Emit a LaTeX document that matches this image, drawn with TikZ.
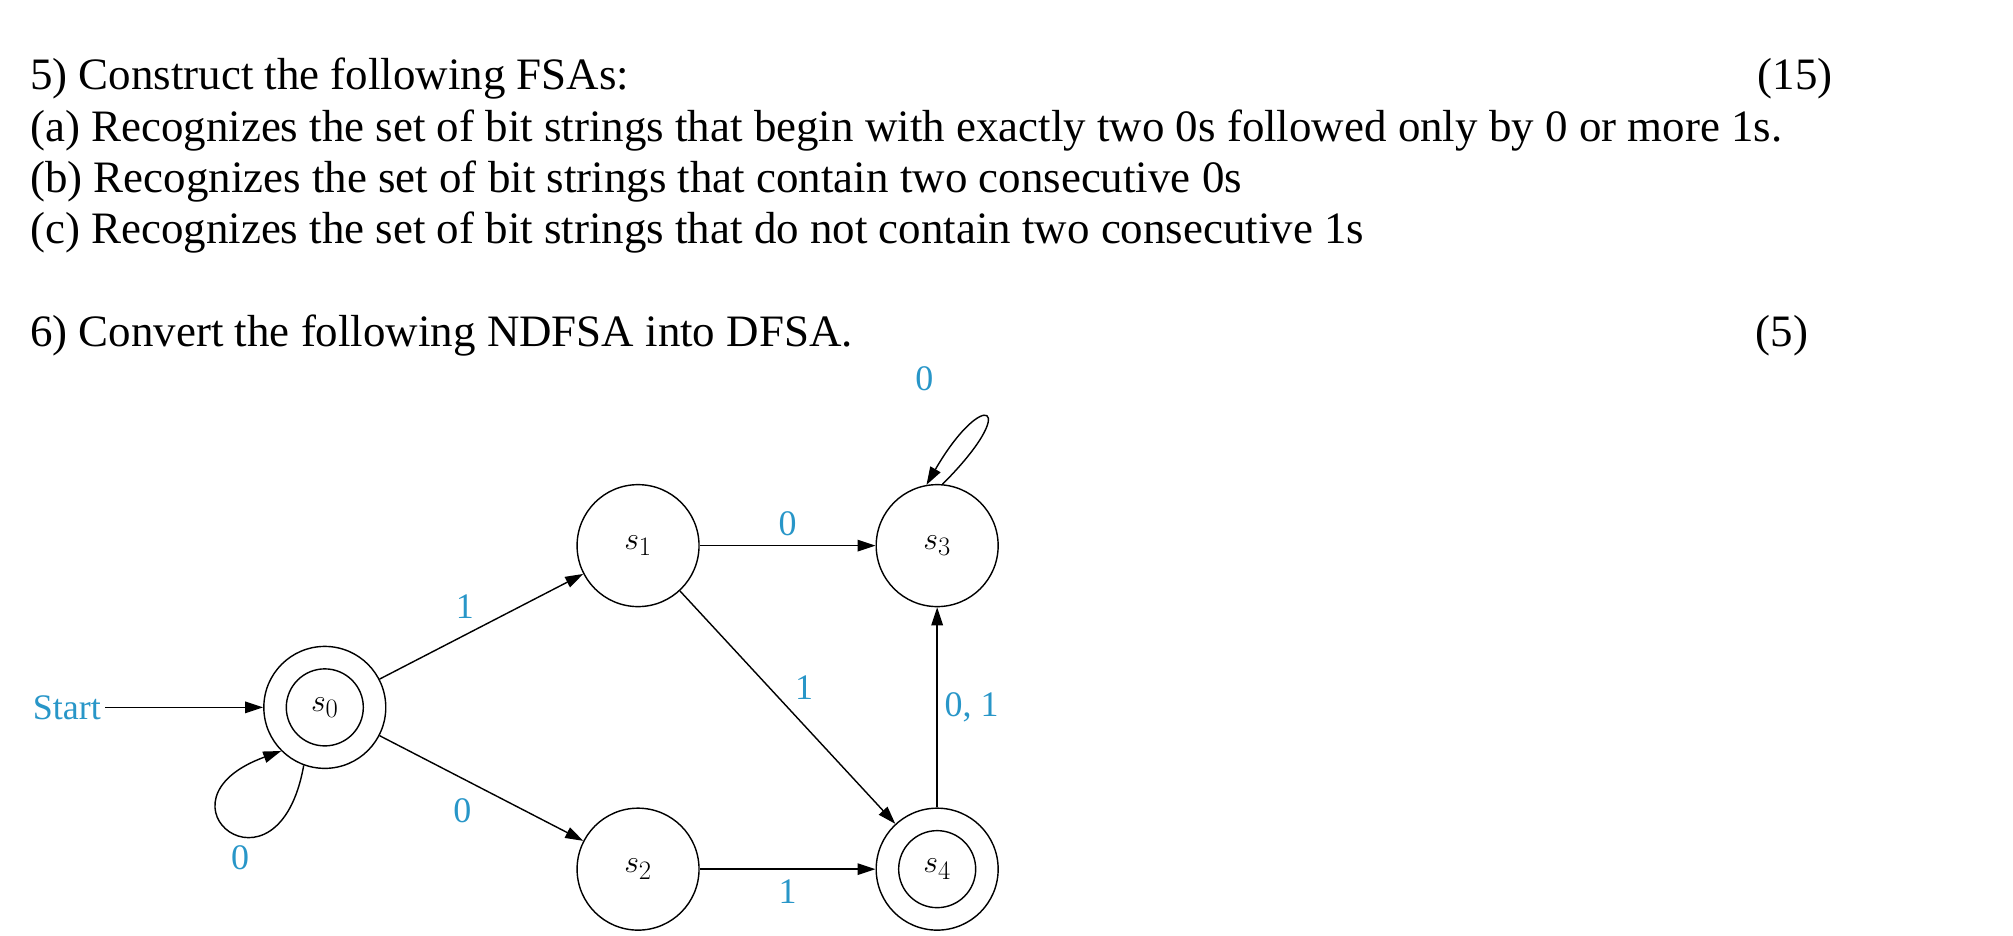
\documentclass[tikz,border=0pt]{standalone}
\usepackage{fontspec}
\setmainfont{Liberation Serif}
\usetikzlibrary{arrows.meta}
\definecolor{lab}{RGB}{40,150,200}
\begin{document}
\begin{tikzpicture}[x=1pt,y=-1pt,
  st/.style={draw,circle,line width=1.1pt,minimum size=95pt,inner sep=0pt,font=\fontsize{28}{28}\selectfont\itshape},
  inner/.style={draw,circle,line width=1.1pt,minimum size=60pt},
  q/.style={anchor=base west,font=\fontsize{35}{35}\selectfont},
  lb/.style={text=lab,font=\fontsize{28}{28}\selectfont},
  ar/.style={line width=1.1pt,-{Triangle[length=14pt,width=9pt]}}]
\useasboundingbox (0,0) rectangle (1568,729);
\node[q] (t5) at (20,70) {5) Construct the following FSAs:};
\node[q,anchor=base east] (t15) at (1431,70) {(15)};
\node[q] (ta) at (20,110) {(a) Recognizes the set of bit strings that begin with exactly two 0s followed only by 0 or more 1s.};
\node[q] (tb) at (20,150) {(b) Recognizes the set of bit strings that contain two consecutive 0s};
\node[q] (tc) at (20,190) {(c) Recognizes the set of bit strings that do not contain two consecutive 1s};
\node[q] (t6) at (20,270) {6) Convert the following NDFSA into DFSA.};
\node[q,anchor=base east] (t5b) at (1412,270) {(5)};

\node[st] (s0) at (253,551) {$s_0$};
\node[inner] (i0) at (253,551) {};
\node[st] (s1) at (497,425) {$s_1$};
\node[st] (s2) at (497,677) {$s_2$};
\node[st] (s3) at (730,425) {$s_3$};
\node[st] (s4) at (730,677) {$s_4$};
\node[inner] (i4) at (730,677) {};
\node[lb,anchor=east] (start) at (82,551) {Start};
\draw[ar] (start.east) -- (s0);
\draw[ar] (s0) -- node[lb,above left=2pt] {1} (s1);
\draw[ar] (s0) -- node[lb,below left=4pt] {0} (s2);
\draw[ar] (s1) -- node[lb,above=4pt] {0} (s3);
\draw[ar] (s1) -- node[lb,above right=2pt] {1} (s4);
\draw[ar] (s2) -- node[lb,below=4pt] {1} (s4);
\draw[ar] (s4) -- node[lb,right=2pt] {0, 1} (s3);
\draw[ar] (s3.85) to[out=45,in=60,looseness=18] (s3.100);
\node[lb] (l3) at (720,295) {0};
\draw[ar] (s0.250) to[out=260,in=200,looseness=14] (s0.225);
\node[lb] (l0) at (187,668) {0};
\end{tikzpicture}
\end{document}
